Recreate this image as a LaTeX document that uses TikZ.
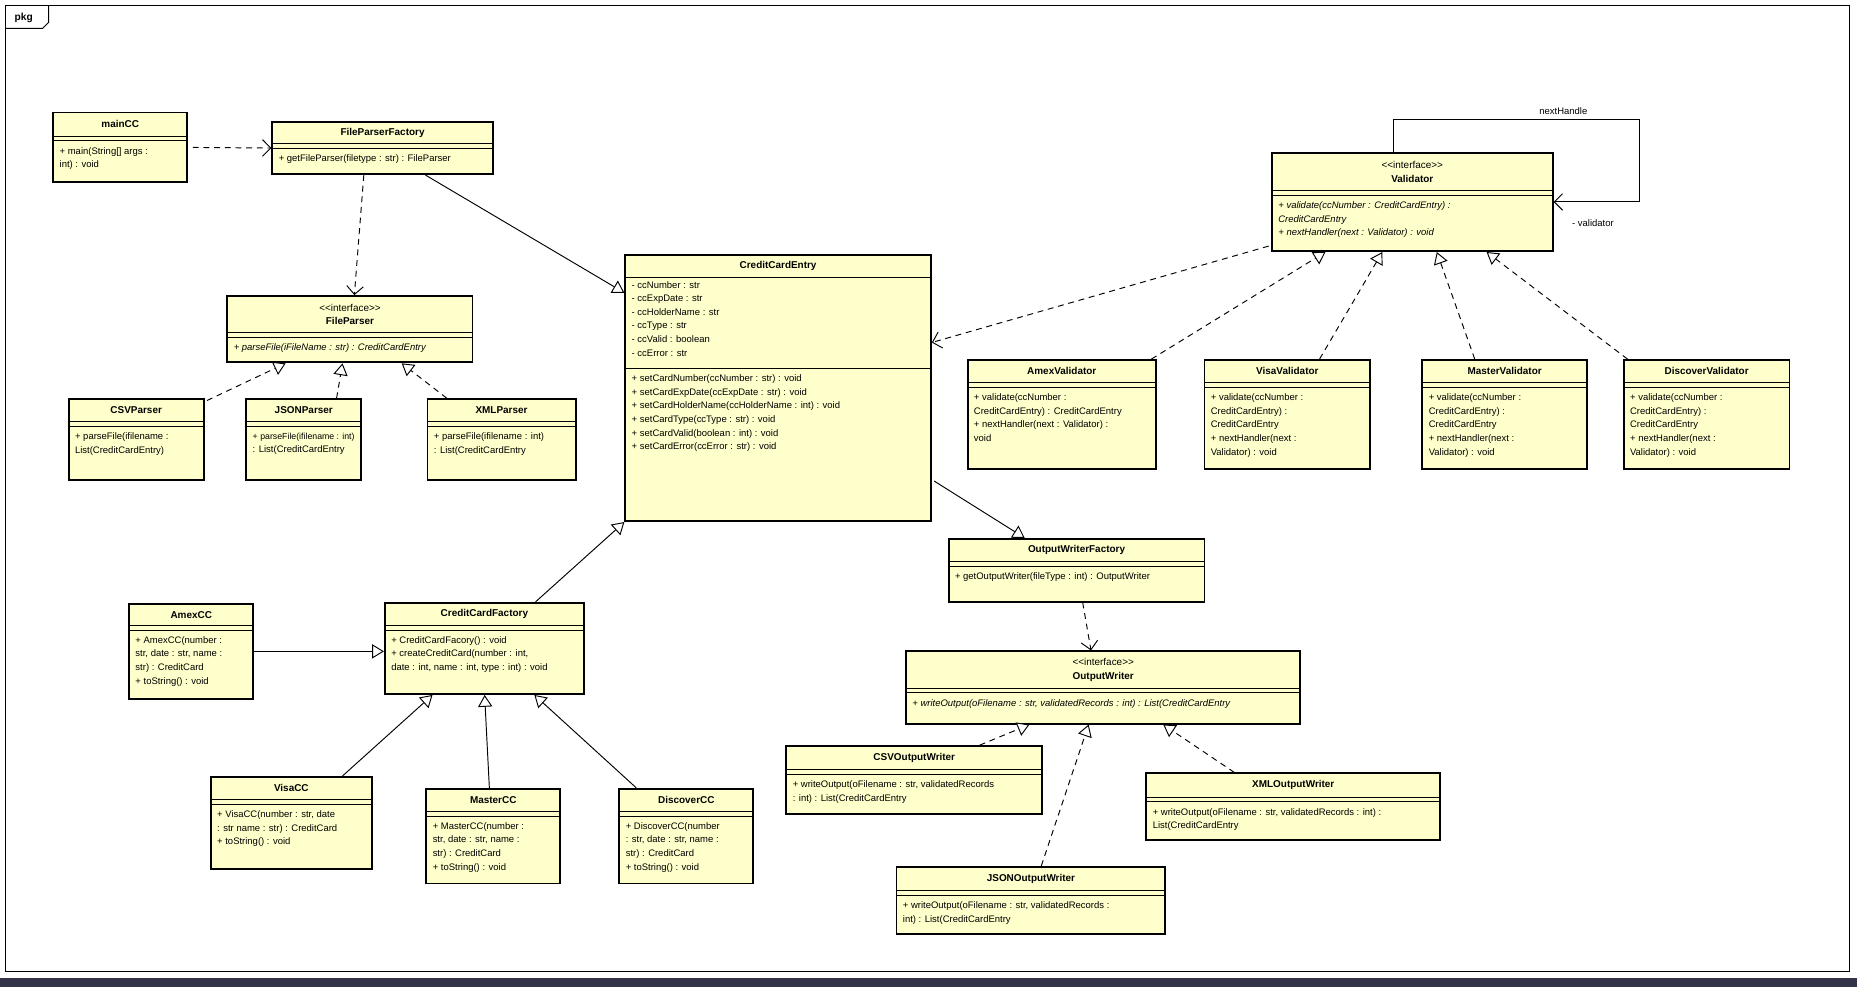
\documentclass[tikz,border=0pt]{standalone}
\usepackage{fontspec}
\setmainfont{Liberation Sans}
\usetikzlibrary{arrows.meta,fit,calc}
\definecolor{clsfill}{HTML}{FFFFCC}
\tikzset{
  clsbox/.style={draw, line width=0.8pt, fill=clsfill, inner sep=0pt},
  dep/.style={draw, line width=0.4pt, dash pattern=on 2.5pt off 2pt, -{Straight Barb[length=3.5pt,width=7pt]}},
  real/.style={draw, line width=0.4pt, dash pattern=on 2.5pt off 2pt, -{Triangle[open,length=5pt,width=6pt,fill=white]}},
  gen/.style={draw, line width=0.4pt, -{Triangle[open,length=5pt,width=6pt,fill=white]}},
  assoc/.style={draw, line width=0.4pt, -{Straight Barb[length=3.5pt,width=7pt]}},
  txt/.style={font=\fontsize{4.0}{5.75}\selectfont, inner sep=0pt},
}
\newcommand\cls[9]{%
  \node[clsbox, fit={(#2,#3) (#4,#5)}] (#1) {};
  \draw[line width=0.4pt] (#2,#7) -- (#4,#7);
  \draw[line width=0.4pt] (#2,#8) -- (#4,#8);
  \node[txt, align=center, font=\fontsize{4.2}{5.75}\selectfont\bfseries] (#1-t) at ({(#2+#4)/2},{(#3+#7)/2}) {#6};
  \node[txt, align=left, anchor=north west] (#1-b) at (#2+5,#8+5) {#9};
}
\newcommand\stereo[1]{{\normalfont <{}<interface>{}>}\\#1}
\begin{document}
\begin{tikzpicture}[x=0.5pt,y=-0.5pt]
\useasboundingbox (0,0) rectangle (1568,833);
\fill[white] (0,0) rectangle (1568,833);
\fill[black!85!blue!60!gray] (0,826) rectangle (1568,833);
\draw[line width=0.4pt] (5,5) rectangle (1562,820);
\draw[line width=0.4pt] (5,24) -- (36,24) -- (41,19) -- (41,5);
\node[txt, font=\fontsize{4.3}{5}\selectfont\bfseries] (pkg) at (20,15) {pkg};

\cls{mainCC}{45}{95}{158}{154}{mainCC}{115}{119}{+ main(String[] args :\\int) : void}
\cls{fpf}{230}{103}{416}{147}{FileParserFactory}{121}{125}{+ getFileParser(filetype : str) : FileParser}
\cls{fp}{192}{250}{399}{306}{\stereo{FileParser}}{281}{285}{\itshape + parseFile(iFileName : str) : CreditCardEntry}
\cls{csvp}{58}{337}{172}{405}{CSVParser}{356}{360}{+ parseFile(ifilename :\\List(CreditCardEntry)}
\cls{jsonp}{208}{337}{305}{405}{JSONParser}{356}{360}{\fontsize{3.7}{5.75}\selectfont + parseFile(ifilename : int)\\: List(CreditCardEntry}
\cls{xmlp}{361}{337}{486}{405}{XMLParser}{356}{360}{+ parseFile(ifilename : int)\\: List(CreditCardEntry}
\cls{cce}{528}{215}{786}{440}{CreditCardEntry}{234}{311}{+ setCardNumber(ccNumber : str) : void\\+ setCardExpDate(ccExpDate : str) : void\\+ setCardHolderName(ccHolderName : int) : void\\+ setCardType(ccType : str) : void\\+ setCardValid(boolean : int) : void\\+ setCardError(ccError : str) : void}
\node[txt, align=left, anchor=north west] (cce-a) at (533,237) {- ccNumber : str\\- ccExpDate : str\\- ccHolderName : str\\- ccType : str\\- ccValid : boolean\\- ccError : str};
\cls{val}{1074}{129}{1311}{212}{\stereo{Validator}}{161}{165}{\itshape + validate(ccNumber : CreditCardEntry) :\\\itshape CreditCardEntry\\\itshape + nextHandler(next : Validator) : void}
\cls{amexv}{817}{304}{976}{396}{AmexValidator}{323}{327}{+ validate(ccNumber :\\CreditCardEntry) : CreditCardEntry\\+ nextHandler(next : Validator) :\\void}
\cls{visav}{1017}{304}{1157}{396}{VisaValidator}{323}{327}{+ validate(ccNumber :\\CreditCardEntry) :\\CreditCardEntry\\+ nextHandler(next :\\Validator) : void}
\cls{masterv}{1201}{304}{1340}{396}{MasterValidator}{323}{327}{+ validate(ccNumber :\\CreditCardEntry) :\\CreditCardEntry\\+ nextHandler(next :\\Validator) : void}
\cls{discv}{1371}{304}{1511}{396}{DiscoverValidator}{323}{327}{+ validate(ccNumber :\\CreditCardEntry) :\\CreditCardEntry\\+ nextHandler(next :\\Validator) : void}
\cls{owf}{801}{455}{1017}{508}{OutputWriterFactory}{474}{478}{+ getOutputWriter(fileType : int) : OutputWriter}
\cls{ow}{765}{550}{1098}{611}{\stereo{OutputWriter}}{581}{585}{\itshape + writeOutput(oFilename : str, validatedRecords : int) : List(CreditCardEntry}
\cls{csvow}{664}{630}{880}{687}{CSVOutputWriter}{650}{654}{+ writeOutput(oFilename : str, validatedRecords\\: int) : List(CreditCardEntry}
\cls{xmlow}{968}{653}{1216}{709}{XMLOutputWriter}{673}{677}{+ writeOutput(oFilename : str, validatedRecords : int) :\\List(CreditCardEntry}
\cls{jsonow}{757}{732}{984}{789}{JSONOutputWriter}{752}{756}{+ writeOutput(oFilename : str, validatedRecords :\\int) : List(CreditCardEntry}
\cls{amexcc}{109}{510}{214}{590}{AmexCC}{528}{532}{+ AmexCC(number :\\str, date : str, name :\\str) : CreditCard\\+ toString() : void}
\cls{ccf}{325}{509}{493}{586}{CreditCardFactory}{528}{532}{+ CreditCardFacory() : void\\+ createCreditCard(number : int,\\date : int, name : int, type : int) : void}
\cls{visacc}{178}{656}{314}{734}{VisaCC}{675}{679}{+ VisaCC(number : str, date\\: str name : str) : CreditCard\\+ toString() : void}
\cls{mastercc}{360}{666}{473}{746}{MasterCC}{685}{689}{+ MasterCC(number :\\str, date : str, name :\\str) : CreditCard\\+ toString() : void}
\cls{disccc}{523}{666}{636}{746}{DiscoverCC}{685}{689}{+ DiscoverCC(number\\: str, date : str, name :\\str) : CreditCard\\+ toString() : void}

% connectors
\draw[dep] ($(mainCC.east)+(4,0)$) -- (fpf.west);
\draw[dep] ($(fpf.south west)+(78,0)$) -- ($(fp.north west)+(108,0)$);
\draw[gen] ($(fpf.south west)+(130,0)$) -- ($(cce.north west)+(0,33)$);
\draw[real] ($(csvp.north east)+(2,2)$) -- ($(fp.south west)+(50,0)$);
\draw[real] ($(jsonp.north west)+(77,0)$) -- ($(fp.south west)+(98,0)$);
\draw[real] ($(xmlp.north west)+(17,0)$) -- ($(fp.south west)+(148,0)$);
\draw[dep] ($(val.south west)+(-2,-5)$) -- ($(cce.north east)+(0,75)$);
\coordinate (loopc) at (1384,101);
\draw[assoc] ($(val.north west)+(103,0)$) |- (loopc) |- (val.east);
\node[txt] (lbl1) at (1320,94) {nextHandle};
\node[txt] (lbl2) at (1345,188) {- validator};
\draw[real] ($(amexv.north west)+(156,0)$) -- ($(val.south west)+(46,0)$);
\draw[real] ($(visav.north west)+(98,0)$) -- ($(val.south west)+(94,0)$);
\draw[real] ($(masterv.north west)+(45,0)$) -- ($(val.south west)+(140,0)$);
\draw[real] ($(discv.north west)+(4,0)$) -- ($(val.south west)+(182,0)$);
\draw[gen] ($(cce.north east)+(2,192)$) -- ($(owf.north west)+(65,0)$);
\draw[dep] ($(owf.south west)+(114,0)$) -- ($(ow.north west)+(157,0)$);
\draw[real] ($(csvow.north west)+(164,0)$) -- ($(ow.south west)+(105,0)$);
\draw[real] ($(jsonow.north west)+(123,0)$) -- ($(ow.south west)+(155,0)$);
\draw[real] ($(xmlow.north west)+(75,0)$) -- ($(ow.south west)+(218,0)$);
\draw[gen] ($(ccf.north west)+(128,0)$) -- ($(cce.south west)+(0,0)$);
\draw[gen] (amexcc.east) -- (amexcc.east -| ccf.west);
\draw[gen] ($(visacc.north west)+(112,0)$) -- ($(ccf.south west)+(41,0)$);
\draw[gen] ($(mastercc.north west)+(54,0)$) -- ($(ccf.south west)+(85,0)$);
\draw[gen] ($(disccc.north west)+(15,0)$) -- ($(ccf.south west)+(127,0)$);
\end{tikzpicture}
\end{document}
